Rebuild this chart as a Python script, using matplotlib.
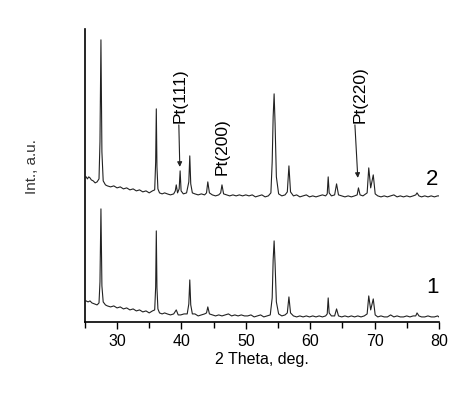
import matplotlib.pyplot as plt
from matplotlib.ticker import MultipleLocator

plt.rcParams['font.family'] = ['Liberation Sans', 'DejaVu Sans']

# pattern 1 (lower trace): 2theta, intensity (a.u.)
x1 = [25.2, 25.5, 25.8, 26.1, 26.5, 26.9, 27.2, 27.35, 27.5, 27.65, 27.85, 28.2,
      28.5, 29.0, 29.5, 30.0, 30.5, 31.0, 31.5, 32.0, 32.5, 33.0, 33.5, 34.0,
      34.5, 35.0, 35.5, 35.85, 36.0, 36.1, 36.2, 36.35, 36.6, 37.0, 37.4, 37.8,
      38.3, 38.8, 39.2, 39.5, 39.9, 40.4, 40.9, 41.15, 41.3, 41.45, 41.7, 42.1,
      42.6, 43.1, 43.6, 43.9, 44.1, 44.35, 44.8, 45.3, 45.8, 46.3, 46.8, 47.3,
      47.8, 48.3, 48.8, 49.3, 49.8, 50.3, 50.8, 51.3, 51.8, 52.3, 52.8, 53.3,
      53.8, 54.1, 54.25, 54.4, 54.55, 54.75, 55.1, 55.6, 56.1, 56.45, 56.7, 56.95,
      57.4, 57.9, 58.4, 58.9, 59.4, 59.9, 60.4, 60.9, 61.4, 61.9, 62.4, 62.65,
      62.8, 62.95, 63.3, 63.8, 64.1, 64.4, 64.9, 65.4, 65.9, 66.4, 66.9, 67.4,
      67.9, 68.4, 68.85, 69.1, 69.4, 69.8, 70.1, 70.5, 71.0, 71.5, 72.0, 72.5,
      73.0, 73.5, 74.0, 74.5, 75.0, 75.5, 76.0, 76.4, 76.6, 76.9, 77.3, 77.8,
      78.3, 78.8, 79.3, 79.8, 80.0]
y1 = [21, 20, 21, 19, 18, 17, 19, 40, 113, 36, 20, 17,
      16, 15, 16, 14, 15, 13, 14, 12, 13, 11, 12, 10,
      11, 9, 11, 12, 35, 91, 34, 13, 9, 8, 9, 8,
      7, 8, 12, 7, 7, 8, 8, 18, 42, 17, 8, 8,
      6, 7, 8, 9, 15, 8, 7, 6, 7, 6, 7, 8,
      6, 7, 6, 7, 6, 6, 7, 5, 6, 7, 5, 6,
      7, 24, 62, 81, 58, 20, 8, 6, 7, 9, 25, 9,
      6, 5, 6, 5, 6, 5, 6, 5, 6, 5, 6, 8,
      24, 9, 6, 6, 13, 6, 5, 6, 5, 6, 5, 6,
      5, 6, 8, 26, 12, 23, 7, 5, 6, 5, 5, 7,
      5, 6, 5, 5, 6, 5, 6, 6, 9, 6, 5, 5,
      6, 5, 5, 6, 5]

# pattern 2 (upper trace, with Pt reflections)
x2 = [25.2, 25.4, 25.6, 25.8, 26.0, 26.3, 26.6, 26.9, 27.2, 27.35, 27.5, 27.65,
      27.85, 28.2, 28.5, 29.0, 29.5, 30.0, 30.5, 31.0, 31.5, 32.0, 32.5, 33.0,
      33.5, 34.0, 34.5, 35.0, 35.5, 35.85, 36.0, 36.1, 36.2, 36.35, 36.6, 37.0,
      37.4, 37.8, 38.3, 38.8, 39.05, 39.2, 39.4, 39.65, 39.8, 39.95, 40.3, 40.8,
      41.15, 41.3, 41.45, 41.7, 42.1, 42.6, 43.1, 43.6, 43.9, 44.1, 44.35, 44.8,
      45.3, 45.8, 46.1, 46.3, 46.55, 47.0, 47.5, 48.0, 48.5, 49.0, 49.5, 50.0,
      50.5, 51.0, 51.5, 52.0, 52.5, 53.0, 53.5, 53.9, 54.1, 54.25, 54.4, 54.55,
      54.75, 55.1, 55.6, 56.1, 56.45, 56.7, 56.95, 57.4, 57.9, 58.4, 58.9, 59.4,
      59.9, 60.4, 60.9, 61.4, 61.9, 62.4, 62.65, 62.8, 62.95, 63.3, 63.8, 64.1,
      64.4, 64.9, 65.4, 65.9, 66.4, 66.9, 67.3, 67.5, 67.75, 68.2, 68.85, 69.1,
      69.4, 69.8, 70.1, 70.5, 71.0, 71.5, 72.0, 72.5, 73.0, 73.5, 74.0, 74.5,
      75.0, 75.5, 76.0, 76.4, 76.6, 76.9, 77.3, 77.8, 78.3, 78.8, 79.3, 79.8,
      80.0]
y2 = [145, 143, 145, 144, 142, 141, 139, 140, 143, 180, 282, 170,
      141, 137, 136, 135, 136, 134, 135, 133, 134, 132, 133, 131,
      132, 130, 131, 129, 131, 132, 160, 213, 155, 133, 129, 128,
      129, 128, 127, 128, 131, 137, 129, 133, 151, 131, 128, 129,
      140, 166, 138, 129, 128, 127, 128, 127, 129, 140, 129, 127,
      126, 127, 129, 137, 128, 127, 126, 127, 126, 127, 126, 127,
      126, 127, 125, 126, 127, 125, 126, 129, 160, 205, 228, 198,
      145, 128, 126, 127, 130, 156, 130, 126, 127, 125, 126, 127,
      125, 126, 125, 126, 127, 126, 128, 145, 129, 126, 127, 138,
      127, 126, 125, 126, 125, 126, 127, 134, 127, 126, 129, 154,
      134, 147, 128, 126, 125, 126, 125, 126, 127, 125, 126, 125,
      126, 125, 126, 127, 129, 126, 125, 126, 125, 126, 125, 126,
      126]

fig = plt.figure(figsize=(4.74, 3.95), dpi=100)
ax = fig.add_axes([0.179, 0.185, 0.747, 0.742])

ax.plot(x1, y1, color='#222222', lw=0.8)
ax.plot(x2, y2, color='#222222', lw=0.8)

ax.set_xlim(25, 80)
ax.set_ylim(0, 293)
ax.xaxis.set_major_locator(MultipleLocator(10))
ax.xaxis.set_minor_locator(MultipleLocator(5))
ax.tick_params(axis='x', which='major', direction='out', length=5, width=1, labelsize=11.5)
ax.tick_params(axis='x', which='minor', direction='out', length=4, width=1)
ax.set_yticks([])
for s in ['top', 'right']:
    ax.spines[s].set_visible(False)
for s in ['left', 'bottom']:
    ax.spines[s].set_linewidth(1.2)

ax.set_xlabel('2 Theta, deg.', fontsize=11.5, labelpad=2)
ax.set_ylabel('Int., a.u.', fontsize=11, color='#333333')
ax.yaxis.set_label_coords(-0.13, 0.53)

# Pt reflections
arrow = dict(arrowstyle='-|>', color='#222222', lw=0.8, mutation_scale=7, shrinkA=0, shrinkB=0)
ax.text(39.75, 199, 'Pt(111)', rotation=90, ha='center', va='bottom', fontsize=12.5)
ax.annotate('', xy=(39.75, 155), xytext=(39.6, 197), arrowprops=arrow)
ax.text(46.27, 147, 'Pt(200)', rotation=90, ha='center', va='bottom', fontsize=12.5)
ax.text(67.7, 199, 'Pt(220)', rotation=90, ha='center', va='bottom', fontsize=12.5)
ax.annotate('', xy=(67.4, 144), xytext=(66.95, 197), arrowprops=arrow)

ax.text(79.0, 142, '2', ha='center', va='center', fontsize=16)
ax.text(79.0, 34, '1', ha='center', va='center', fontsize=16)

fig.savefig('out.png', dpi=100)
